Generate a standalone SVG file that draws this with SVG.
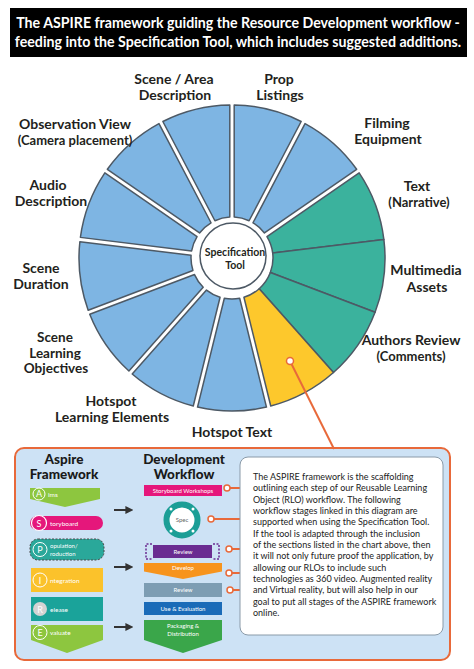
<svg xmlns="http://www.w3.org/2000/svg" width="474" height="669" viewBox="0 0 474 669">
<defs>
<style>
.seg{stroke:#4d5965;stroke-width:1.5;stroke-linejoin:round}
.blue{fill:#7eb5e3}
.green{fill:#3bb29d}
.yellow{fill:#fdc82c}
.lbl{font-family:Lato,"Open Sans",sans-serif;font-weight:700;font-size:14px;fill:#231f20;text-anchor:middle}
.sub{font-size:13px}
.tight{font-size:13.5px}
.title{font-family:Lato,"Open Sans",sans-serif;font-weight:700;font-size:14.2px;fill:#fff;text-anchor:middle}
.head{font-family:Lato,"Open Sans",sans-serif;font-weight:900;font-size:13.5px;fill:#1a1a1a;text-anchor:middle}
.body{font-family:Lato,"Open Sans",sans-serif;font-size:9px;fill:#222}
.wt{font-family:Lato,"Open Sans",sans-serif;font-size:6px;fill:#fff;text-anchor:middle}
.at{font-family:Lato,"Open Sans",sans-serif;font-size:6.5px;fill:#fff}
.at2{font-family:Lato,"Open Sans",sans-serif;font-size:6px;fill:#fff}
.letter{font-family:Lato,"Open Sans",sans-serif;font-size:9px;fill:#fff;text-anchor:middle}
.ring{fill:none;stroke:#fff;stroke-width:1}
.conn{stroke:#e8693a;stroke-width:2;fill:none}
.dot{fill:#fff;stroke:#e8693a;stroke-width:1.5}
.arrow{stroke:#333;stroke-width:2;fill:none}
</style>
<path id="G" d="M7.662,-40.278 L34.476,-149.065 A153,153 0 0 0 -34.476,-149.065 L-7.662,-40.278 A41,41 0 0 1 7.662,-40.278 Z"/>
<path id="GL" d="M9.812,-39.809 L36.616,-148.554 A153,153 0 0 0 -34.476,-149.065 L-7.662,-40.278 A41,41 0 0 1 9.812,-39.809 Z"/>
<path id="W" d="M9.812,-39.809 L36.616,-148.554 A153,153 0 0 0 -36.616,-148.554 L-9.812,-39.809 A41,41 0 0 1 9.812,-39.809 Z"/>
<path id="GR" d="M7.662,-40.278 L34.476,-149.065 A153,153 0 0 0 -36.616,-148.554 L-9.812,-39.809 A41,41 0 0 1 7.662,-40.278 Z"/>
<marker id="ah" viewBox="0 0 10 10" refX="2" refY="5" markerWidth="4" markerHeight="4" orient="auto" markerUnits="strokeWidth">
<path d="M0,0 L10,5 L0,10 Z" fill="#333"/>
</marker>
</defs>
<rect width="474" height="669" fill="#fff"/>

<g id="title">
<rect x="10" y="8" width="457" height="49" fill="#000"/>
<text class="title" x="238" y="28">The ASPIRE framework guiding the Resource Development workflow -</text>
<text class="title" x="238" y="47">feeding into the Specification Tool, which includes suggested additions.</text>
</g>

<g id="wheel" transform="translate(232,258)">
<g id="seg-prop"><use href="#G" class="seg blue" transform="rotate(13.846)"/></g>
<g id="seg-filming"><use href="#G" class="seg blue" transform="rotate(41.538)"/></g>
<g id="seg-text"><use href="#GL" class="seg green" transform="rotate(69.231)"/></g>
<g id="seg-multimedia"><use href="#W" class="seg green" transform="rotate(96.923)"/></g>
<g id="seg-authors"><use href="#W" class="seg green" transform="rotate(124.615)"/></g>
<g id="seg-yellow"><use href="#GR" class="seg yellow" transform="rotate(152.308)"/></g>
<g id="seg-hotspot-text"><use href="#G" class="seg blue" transform="rotate(180)"/></g>
<g id="seg-hotspot-learning"><use href="#G" class="seg blue" transform="rotate(207.692)"/></g>
<g id="seg-objectives"><use href="#G" class="seg blue" transform="rotate(235.385)"/></g>
<g id="seg-duration"><use href="#G" class="seg blue" transform="rotate(263.077)"/></g>
<g id="seg-audio"><use href="#G" class="seg blue" transform="rotate(290.769)"/></g>
<g id="seg-observation"><use href="#G" class="seg blue" transform="rotate(318.462)"/></g>
<g id="seg-scene"><use href="#G" class="seg blue" transform="rotate(346.154)"/></g>
</g>

<g id="spec-tool">
<circle cx="233" cy="256" r="33" fill="#fff" stroke="#4d5965" stroke-width="1.5"/>
<text class="lbl" x="235" y="256" style="font-size:10.5px">Specification</text>
<text class="lbl" x="235" y="268.5" style="font-size:10.5px">Tool</text>
</g>

<g id="labels">
<g id="lbl-scene"><text class="lbl" x="174" y="84">Scene / Area</text><text class="lbl" x="175" y="100">Description</text></g>
<g id="lbl-prop"><text class="lbl" x="279" y="84">Prop</text><text class="lbl" x="280" y="100">Listings</text></g>
<g id="lbl-filming"><text class="lbl" x="387" y="128">Filming</text><text class="lbl" x="388" y="144">Equipment</text></g>
<g id="lbl-text"><text class="lbl" x="417" y="191">Text</text><text class="lbl sub" x="419" y="207">(Narrative)</text></g>
<g id="lbl-multimedia"><text class="lbl" x="426" y="275">Multimedia</text><text class="lbl" x="427" y="292">Assets</text></g>
<g id="lbl-authors"><text class="lbl" x="411" y="345">Authors Review</text><text class="lbl sub" x="411" y="361">(Comments)</text></g>
<g id="lbl-hotspot-text"><text class="lbl" x="232" y="437">Hotspot Text</text></g>
<g id="lbl-hotspot-learning"><text class="lbl" x="111" y="406">Hotspot</text><text class="lbl" x="112" y="422">Learning Elements</text></g>
<g id="lbl-objectives"><text class="lbl tight" x="55" y="342">Scene</text><text class="lbl tight" x="55" y="357.5">Learning</text><text class="lbl tight" x="56" y="373">Objectives</text></g>
<g id="lbl-duration"><text class="lbl" x="41" y="273">Scene</text><text class="lbl" x="41" y="289">Duration</text></g>
<g id="lbl-audio"><text class="lbl" x="48" y="190">Audio</text><text class="lbl" x="51" y="206">Description</text></g>
<g id="lbl-observation"><text class="lbl" x="75" y="129">Observation View</text><text class="lbl sub" x="75" y="145">(Camera placement)</text></g>
</g>

<g id="panel">
<rect x="15" y="448" width="435" height="212" rx="9" fill="#cde2f5" stroke="#e8693a" stroke-width="2"/>
</g>

<g id="aspire">
<text class="head" x="64" y="464">Aspire</text>
<text class="head" x="64" y="479">Framework</text>
<g id="a-aims"><path d="M30,488 H100 V499 L65,507 L30,499 Z" fill="#8dc63f"/><circle class="ring" cx="39" cy="494" r="6"/><text class="letter" x="39" y="497">A</text><text class="at" x="48" y="496.5">ims</text></g>
<g id="a-storyboard"><rect x="30" y="516" width="73" height="14" rx="7" fill="#e5177b"/><circle cx="39" cy="523" r="7.5" fill="#e5177b" stroke="#fff" stroke-width="1.2"/><text class="letter" x="39" y="526.5">S</text><text class="at" x="50" y="525.5">toryboard</text></g>
<g id="a-population"><rect x="30" y="539" width="74" height="21" rx="8" fill="#2aa89a" stroke="#4a4a4a" stroke-width="1" stroke-dasharray="2 1.5"/><circle class="ring" cx="40" cy="549.5" r="7"/><text class="letter" x="40" y="553">P</text><text class="at2" x="50" y="548">opulation/</text><text class="at2" x="50" y="555.5">roduction</text></g>
<g id="a-integration"><rect x="31" y="568" width="72" height="24" fill="#fbc22b"/><circle class="ring" cx="40" cy="580" r="7"/><text class="letter" x="40" y="583.5">I</text><text class="at" x="50" y="582.5">ntegration</text></g>
<g id="a-release"><rect x="31" y="597" width="72" height="24" fill="#1aa39a"/><circle cx="40" cy="609" r="7" fill="#d3d3d3"/><text class="letter" x="40" y="612.5">R</text><text class="at" x="50" y="611.5">elease</text></g>
<g id="a-evaluate"><path d="M31,625 H103 V640 L67,653 L31,640 Z" fill="#8dc63f"/><circle class="ring" cx="40" cy="632.5" r="7"/><text class="letter" x="40" y="636">E</text><text class="at" x="50" y="635">valuate</text></g>
</g>

<g id="arrows">
<line class="arrow" x1="114" y1="510" x2="127" y2="510" marker-end="url(#ah)"/>
<line class="arrow" x1="114" y1="567" x2="127" y2="567" marker-end="url(#ah)"/>
<line class="arrow" x1="114" y1="627" x2="127" y2="627" marker-end="url(#ah)"/>
</g>

<g id="workflow">
<text class="head" x="184" y="464">Development</text>
<text class="head" x="184" y="479">Workflow</text>
<g id="w-workshops"><rect x="144" y="485" width="78" height="11" fill="#e5177b"/><text class="wt" x="183" y="492.5">Storyboard Workshops</text></g>
<g id="w-spec"><circle cx="182" cy="520" r="15.5" fill="#fff" stroke="#1b9e96" stroke-width="6"/><circle cx="193" cy="509" r="1.5" fill="#fff"/><circle cx="193" cy="531" r="1.5" fill="#fff"/><circle cx="171" cy="531" r="1.5" fill="#fff"/><circle cx="171" cy="509" r="1.5" fill="#fff"/><text class="wt" x="182" y="522" style="fill:#666">Spec</text></g>
<g id="w-review1"><rect x="153" y="545" width="59" height="13" fill="#6a2c91"/><path d="M152,544 H146 V559 H152 M213,544 H219 V559 H213" fill="none" stroke="#6a2c91" stroke-width="1.5" stroke-dasharray="2 1.5"/><text class="wt" x="183" y="553.5">Review</text></g>
<g id="w-develop"><path d="M144,563 H222 V571.5 L183,579 L144,571.5 Z" fill="#f7941d"/><text class="wt" x="183" y="570">Develop</text></g>
<g id="w-review2"><rect x="144" y="583" width="78" height="14" fill="#7d9db3"/><text class="wt" x="183" y="592">Review</text></g>
<g id="w-use"><rect x="144" y="602" width="78" height="13" fill="#1a6bb8"/><text class="wt" x="183" y="610.5">Use &amp; Evaluation</text></g>
<g id="w-packaging"><path d="M144,620 H222 V640 L183,653 L144,640 Z" fill="#3aa64a"/><text class="wt" x="183" y="628">Packaging &amp;</text><text class="wt" x="183" y="636">Distribution</text></g>
</g>

<g id="connectors">
<line class="conn" x1="290" y1="361" x2="334" y2="449" stroke-width="2.5"/>
<circle class="dot" cx="290" cy="361" r="3.5"/>
<line class="conn" x1="230" y1="488" x2="240" y2="488"/><circle class="dot" cx="227" cy="488" r="3"/>
<line class="conn" x1="214" y1="519" x2="240" y2="519"/><circle class="dot" cx="211" cy="519" r="3"/>
<line class="conn" x1="232" y1="549" x2="240" y2="549"/><circle class="dot" cx="229" cy="549" r="3"/>
<line class="conn" x1="232" y1="573" x2="240" y2="573"/><circle class="dot" cx="229" cy="573" r="3"/>
<line class="conn" x1="233" y1="590" x2="240" y2="590"/><circle class="dot" cx="230" cy="590" r="3"/>
</g>

<g id="note">
<rect x="240" y="457" width="203" height="178" rx="8" fill="#fff" stroke="#8a9aa8" stroke-width="1"/>
<text class="body" x="253" y="480">The ASPIRE framework is the scaffolding</text>
<text class="body" x="253" y="491.3">outlining each step of our Reusable Learning</text>
<text class="body" x="253" y="502.7">Object (RLO) workflow. The following</text>
<text class="body" x="253" y="514">workflow stages linked in this diagram are</text>
<text class="body" x="253" y="525.3">supported when using the Specification Tool.</text>
<text class="body" x="253" y="536.7">If the tool is adapted through the inclusion</text>
<text class="body" x="253" y="548">of the sections listed in the chart above, then</text>
<text class="body" x="253" y="559.3">it will not only future proof the application, by</text>
<text class="body" x="253" y="570.7">allowing our RLOs to include such</text>
<text class="body" x="253" y="582">technologies as 360 video. Augmented reality</text>
<text class="body" x="253" y="593.3">and Virtual reality, but will also help in our</text>
<text class="body" x="253" y="604.7">goal to put all stages of the ASPIRE framework</text>
<text class="body" x="253" y="616">online.</text>
</g>
</svg>
